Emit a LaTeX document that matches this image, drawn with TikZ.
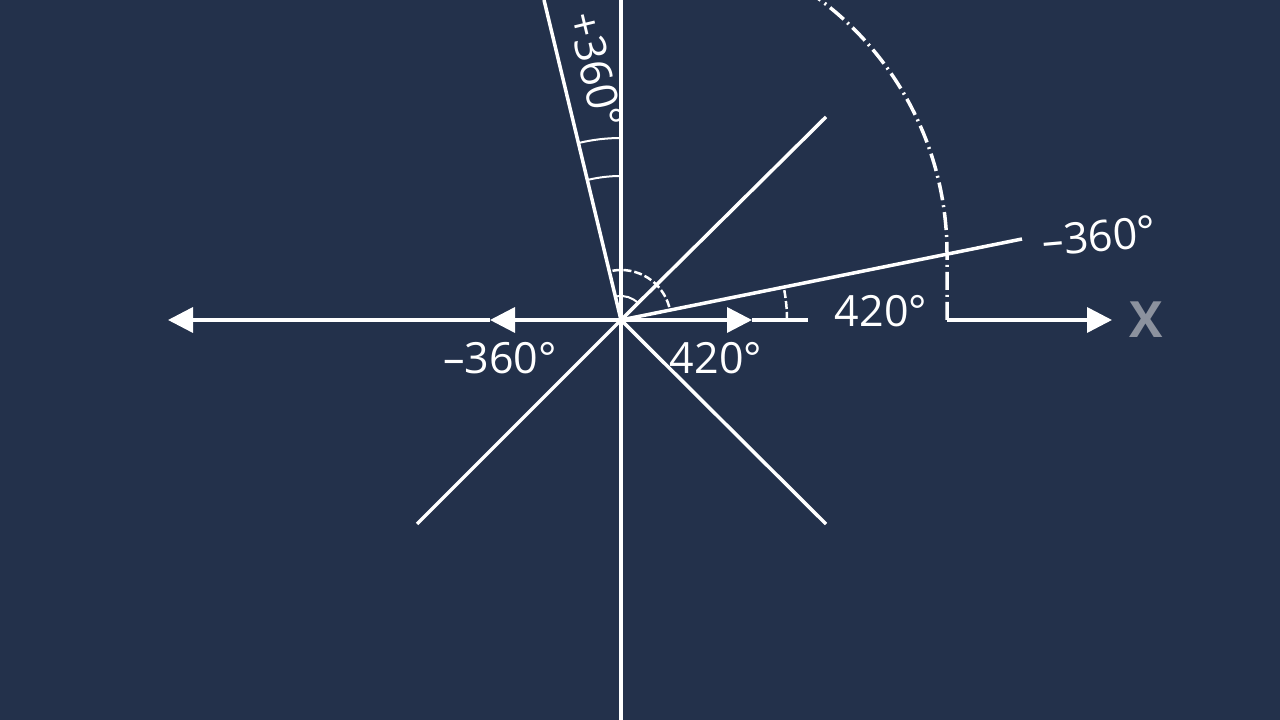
\documentclass[tikz,border=0pt]{standalone}
\usepackage{fontspec}
\setmainfont{Open Sans}
\usetikzlibrary{arrows.meta}
\definecolor{bg}{RGB}{35,49,75}
\definecolor{xgray}{RGB}{140,146,158}
\tikzset{
  ax/.style={draw=white,line width=3.5pt},
  tip/.style={-{Triangle[length=25pt,width=25pt]}},
  thin arc/.style={draw=white,line width=2pt},
  dasharc/.style={draw=white,line width=2.5pt,dash pattern=on 8pt off 3pt},
  dashdot/.style={draw=white,line width=3.5pt,dash pattern=on 18pt off 5pt on 2pt off 5pt},
  lbl/.style={text=white,font=\fontsize{43}{50}\selectfont,inner sep=0pt},
}
\begin{document}
\begin{tikzpicture}[x=1pt,y=1pt]
\fill[bg] (0,0) rectangle (1280,720);
\useasboundingbox (0,0) rectangle (1280,720);
\clip (0,0) rectangle (1280,720);
\coordinate (O) at (621,400);
\coordinate (top) at (621,720);
\coordinate (bot) at (621,0);
\coordinate (L) at (168,400);
\coordinate (Lm) at (490,400);
\coordinate (Rm) at (752,400);
\coordinate (Re) at (808,400);
\coordinate (X0) at (947,400);
\coordinate (X1) at (1112,400);
\coordinate (Xc) at (947,467);
\coordinate (UR) at (826,603);
\coordinate (DR) at (826,196);
\coordinate (DL) at (417,196);
\coordinate (S) at (544,720);
\coordinate (M) at (1022,481);
% axes
\draw[ax] (top) -- (bot);
\draw[ax,tip] (O) -- (Lm);
\draw[ax,tip] (Lm) -- (L);
\draw[ax,tip] (O) -- (Rm);
\draw[ax] (Rm) -- (Re);
\draw[ax,tip] (X0) -- (X1);
% rays
\draw[ax] (O) -- (UR);
\draw[ax] (O) -- (DR);
\draw[ax] (O) -- (DL);
\draw[ax] (O) -- (S);
\draw[ax] (O) -- (M);
% dash-dot arc
\draw[dashdot] (X0) -- (Xc) arc[start angle=0,end angle=62,radius=316];
% angle arcs
\draw[thin arc] (O) ++(90:182) arc[start angle=90,end angle=103.5,radius=182];
\draw[thin arc] (O) ++(90:144) arc[start angle=90,end angle=103.5,radius=144];
\draw[dasharc] (O) ++(15:50) arc[start angle=15,end angle=100,radius=50];
\draw[thin arc] (O) ++(45:24) arc[start angle=45,end angle=100,radius=24];
\draw[dasharc] (O) ++(0:166) arc[start angle=0,end angle=11.4,radius=166];
% labels
\node[lbl,rotate=-76.5] (t1) at (596,650) {+360°};
\node[lbl,rotate=5] (t2) at (1099,484) {–360°};
\node[lbl] (t3) at (881,409) {420°};
\node[lbl] (t4) at (500,362) {–360°};
\node[lbl] (t5) at (716,362) {420°};
\node[lbl,text=xgray,font=\fontsize{50}{54}\selectfont\bfseries] (xl) at (1146,400) {X};
\end{tikzpicture}
\end{document}
